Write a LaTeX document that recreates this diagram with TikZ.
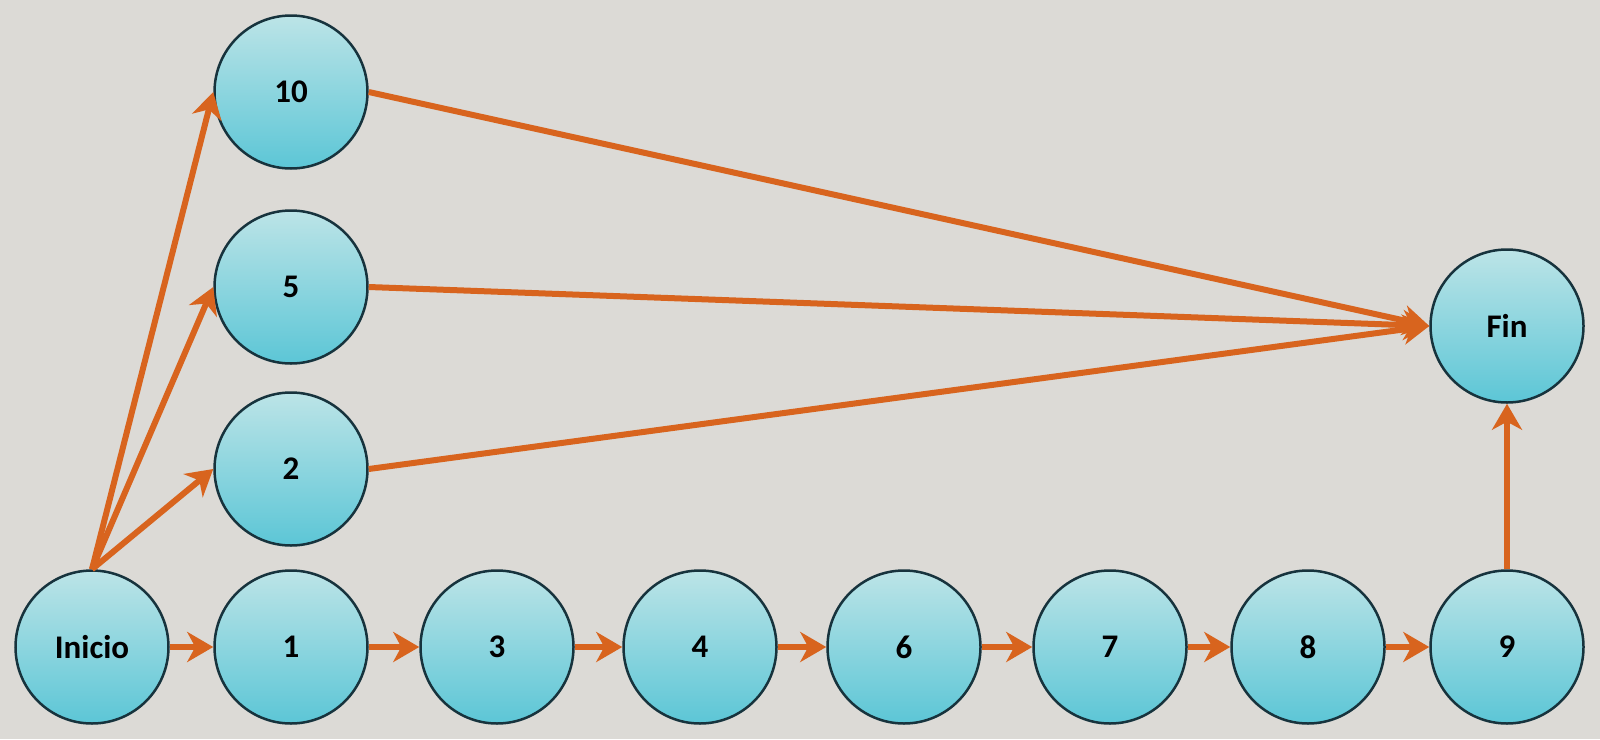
\documentclass[tikz,border=0pt]{standalone}
\usepackage{fontspec}
\setmainfont{Carlito}
\usetikzlibrary{arrows.meta}
\definecolor{bgcol}{HTML}{DCDAD6}
\definecolor{arrcol}{HTML}{D8641E}
\definecolor{rimcol}{HTML}{17333D}
\definecolor{topcol}{HTML}{BCE4E7}
\definecolor{botcol}{HTML}{5CC6D6}
\begin{document}
\begin{tikzpicture}[x=1pt, y=-1pt,
  task/.style={shape=circle, draw=rimcol, line width=2.5pt, minimum size=153pt, inner sep=0pt,
    top color=topcol, bottom color=botcol, font=\fontsize{33}{33}\selectfont\bfseries},
  link/.style={draw=arrcol, line width=6pt, -{Stealth[length=26pt, width=30pt, inset=8pt]}}]
\useasboundingbox[fill=bgcol] (0,0) rectangle (1600,739);
\node[task] (inicio) at (92, 647) {Inicio};
\node[task] (1) at (291, 647) {1};
\node[task] (3) at (497, 647) {3};
\node[task] (4) at (700, 647) {4};
\node[task] (6) at (904, 647) {6};
\node[task] (7) at (1110, 647) {7};
\node[task] (8) at (1308, 647) {8};
\node[task] (9) at (1507, 647) {9};
\node[task] (10) at (291, 92) {10};
\node[task] (5) at (291, 287) {5};
\node[task] (2) at (291, 469) {2};
\node[task] (fin) at (1507, 326) {Fin};
\draw [link] (inicio.north) -- (10.west);
\draw [link] (inicio.north) -- (5.west);
\draw [link] (inicio.north) -- (2.west);
\draw [link] (inicio) -- (1);
\draw [link] (1) -- (3);
\draw [link] (3) -- (4);
\draw [link] (4) -- (6);
\draw [link] (6) -- (7);
\draw [link] (7) -- (8);
\draw [link] (8) -- (9);
\draw [link] (9) -- (fin);
\draw [link] (10.east) -- (fin.west);
\draw [link] (5.east) -- (fin.west);
\draw [link] (2.east) -- (fin.west);
\end{tikzpicture}
\end{document}
